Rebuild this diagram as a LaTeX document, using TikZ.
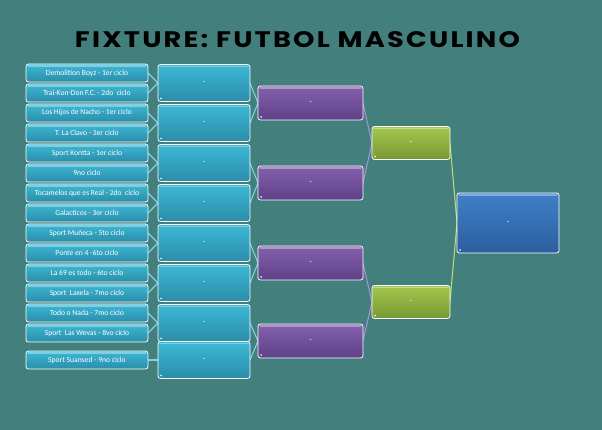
\documentclass[tikz,border=0pt]{standalone}
\usepackage{fontspec}
\setmainfont{Carlito}
\newfontfamily\titlefont[LetterSpace=8]{Poppins}
\usetikzlibrary{backgrounds}
\begin{document}
\begin{tikzpicture}[x=1pt,y=-1pt,
  every node/.style={inner sep=0pt, outer sep=0pt, text=white},
  glossy/.style={draw=white, line width=0.8pt, rounded corners=2.5pt, shading=axis, shading angle=0,
    path picture={
      \draw[white, opacity=0.35, line width=1.2pt] ([xshift=2pt,yshift=-2pt]path picture bounding box.north west) -- ([xshift=-2pt,yshift=-2pt]path picture bounding box.north east);
    }},
  dotted box/.style={glossy,
    path picture={
      \draw[white, opacity=0.35, line width=1.2pt] ([xshift=2pt,yshift=-2pt]path picture bounding box.north west) -- ([xshift=-2pt,yshift=-2pt]path picture bounding box.north east);
      \fill[white, opacity=0.85] ([xshift=3pt,yshift=3pt]path picture bounding box.south west) circle (1pt);
    }},
  teamb/.style={glossy, minimum width=122pt, minimum height=18pt, top color=cyanT, bottom color=cyanB, font=\fontsize{7.6}{8}\selectfont},
  rone/.style={dotted box, minimum width=92pt, minimum height=37pt, top color=cyanT, bottom color=cyanB, font=\fontsize{8}{9}\selectfont},
  rtwo/.style={dotted box, minimum width=105pt, minimum height=34pt, top color=purT, bottom color=purB, font=\fontsize{8}{9}\selectfont},
  rthree/.style={dotted box, minimum width=78pt, minimum height=33pt, top color=grnT, bottom color=grnB, font=\fontsize{8}{9}\selectfont},
  rfinal/.style={dotted box, minimum width=102pt, minimum height=60pt, top color=bluT, bottom color=bluB, font=\fontsize{8}{9}\selectfont},
  cl/.style={draw=cyanL, line width=1.1pt},
  pl/.style={draw=purL, line width=1.1pt},
  gl/.style={draw=grnL, line width=1.1pt}
]
\definecolor{bg}{HTML}{427F7D}
\definecolor{cyanT}{HTML}{3DB8D6}
\definecolor{cyanB}{HTML}{2A8DA9}
\definecolor{purT}{HTML}{8460AE}
\definecolor{purB}{HTML}{5E4186}
\definecolor{grnT}{HTML}{A2C74E}
\definecolor{grnB}{HTML}{789832}
\definecolor{bluT}{HTML}{3E80C8}
\definecolor{bluB}{HTML}{2D5E9E}
\definecolor{cyanL}{HTML}{80D2E8}
\definecolor{purL}{HTML}{A890D2}
\definecolor{grnL}{HTML}{B8DA6E}
\begin{scope}[on background layer]
\fill[bg] (0,0) rectangle (602,430);
\end{scope}
\useasboundingbox (0,0) rectangle (602,430);

\node[font=\titlefont\bfseries, text=black] (title) at (297.5,40) {\resizebox{445pt}{16pt}{FIXTURE: FUTBOL MASCULINO}};

% teams
\node[teamb] (t1) at (87,73) {Demolition Boyz - 1er ciclo};
\node[teamb] (t2) at (87,93) {Trai-Kon-Don F.C. - 2do\ \ ciclo};
\node[teamb] (t3) at (87,113) {Los Hijos de Nacho - 1er ciclo};
\node[teamb] (t4) at (87,133) {T. La Clavo - 3er ciclo};
\node[teamb] (t5) at (87,153) {Sport Kontta - 1er ciclo};
\node[teamb] (t6) at (87,173) {9no ciclo};
\node[teamb] (t7) at (87,193) {Tocamelos que es Real - 2do\ \ ciclo};
\node[teamb] (t8) at (87,213) {Galacticos - 3er ciclo};
\node[teamb] (t9) at (87,233) {Sport Muñeca - 5to ciclo};
\node[teamb] (t10) at (87,253) {Ponte en 4 -6to ciclo};
\node[teamb] (t11) at (87,273) {La 69 es todo - 6to ciclo};
\node[teamb] (t12) at (87,293) {Sport\ \ Laxela - 7mo ciclo};
\node[teamb] (t13) at (87,313) {Todo o Nada - 7mo ciclo};
\node[teamb] (t14) at (87,333) {Sport\ \ Las Wevas - 8vo ciclo};
\node[teamb] (t15) at (87,360) {Sport Suansed - 9no ciclo};

% round 1
\node[rone] (a1) at (204,83) {-};
\node[rone] (a2) at (204,123) {-};
\node[rone] (a3) at (204,163) {-};
\node[rone] (a4) at (204,203) {-};
\node[rone] (a5) at (204,243) {-};
\node[rone] (a6) at (204,283) {-};
\node[rone] (a7) at (204,323) {-};
\node[rone] (a8) at (204,360) {-};

% round 2
\node[rtwo] (b1) at (310.5,103) {-};
\node[rtwo] (b2) at (310.5,183) {-};
\node[rtwo] (b3) at (310.5,263) {-};
\node[rtwo] (b4) at (310.5,341) {-};

% round 3
\node[rthree] (c1) at (411,143) {-};
\node[rthree] (c2) at (411,302) {-};

% final
\node[rfinal] (d1) at (508,223) {-};

% connectors
\begin{scope}[on background layer]
\draw[cl] (t1.east) -- (a1.west);
\draw[cl] (t2.east) -- (a1.west);
\draw[cl] (t3.east) -- (a2.west);
\draw[cl] (t4.east) -- (a2.west);
\draw[cl] (t5.east) -- (a3.west);
\draw[cl] (t6.east) -- (a3.west);
\draw[cl] (t7.east) -- (a4.west);
\draw[cl] (t8.east) -- (a4.west);
\draw[cl] (t9.east) -- (a5.west);
\draw[cl] (t10.east) -- (a5.west);
\draw[cl] (t11.east) -- (a6.west);
\draw[cl] (t12.east) -- (a6.west);
\draw[cl] (t13.east) -- (a7.west);
\draw[cl] (t14.east) -- (a7.west);
\draw[cl] (t15.east) -- (a8.west);

\draw[cl] (a1.east) -- (b1.west);
\draw[cl] (a2.east) -- (b1.west);
\draw[cl] (a3.east) -- (b2.west);
\draw[cl] (a4.east) -- (b2.west);
\draw[cl] (a5.east) -- (b3.west);
\draw[cl] (a6.east) -- (b3.west);
\draw[cl] (a7.east) -- (b4.west);
\draw[cl] (a8.east) -- (b4.west);

\draw[pl] (b1.east) -- (c1.west);
\draw[pl] (b2.east) -- (c1.west);
\draw[pl] (b3.east) -- (c2.west);
\draw[pl] (b4.east) -- (c2.west);

\draw[gl] (c1.east) -- (d1.west);
\draw[gl] (c2.east) -- (d1.west);
\end{scope}
\end{tikzpicture}
\end{document}
